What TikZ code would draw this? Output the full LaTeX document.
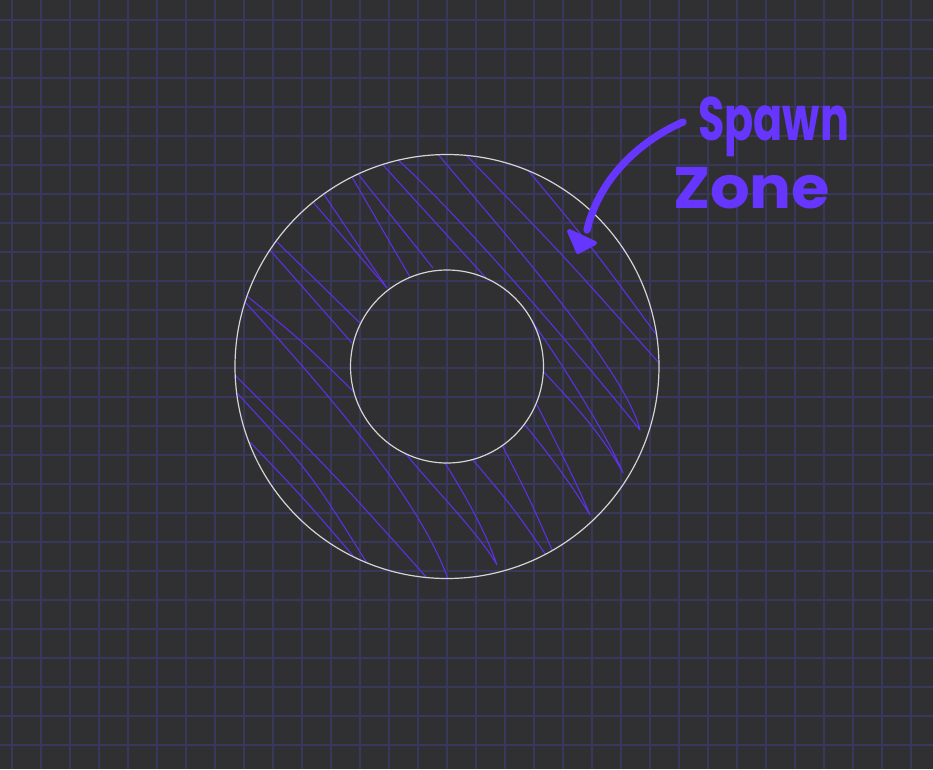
\documentclass[tikz,border=0pt]{standalone}
\usepackage{fontspec}
\usepackage{graphicx}
\newfontfamily\handfont{Poppins}
\definecolor{bgc}{RGB}{48,48,50}
\definecolor{gridc}{RGB}{56,56,92}
\definecolor{ringc}{RGB}{212,212,212}
\definecolor{hatchc}{RGB}{92,48,228}
\definecolor{inkc}{RGB}{102,54,255}
\tikzset{
  gridline/.style={draw=gridc, line width=1.2pt},
  ring/.style={draw=ringc, line width=0.9pt},
  hatchline/.style={draw=hatchc, line width=0.8pt, line cap=round, line join=round},
  inkstroke/.style={draw=inkc, line width=5.5pt, line cap=round},
  inkhead/.style={draw=inkc, fill=inkc, line width=3pt, line join=round},
  handlabel/.style={text=inkc, inner sep=0pt},
}
\begin{document}
\begin{tikzpicture}[x=0.75pt,y=-0.75pt]
\fill[bgc] (0,0) rectangle (933,769);
\useasboundingbox (0,0) rectangle (933,769);
\foreach \i in {0,...,31} \draw[gridline] ({12+29*\i},0) -- ({12+29*\i},769);
\foreach \j in {0,...,25} \draw[gridline] (0,{20+29*\j}) -- (933,{20+29*\j});

\coordinate (c) at (447,366.5);
\begin{scope}[even odd rule]
\clip (c) circle[radius=212.5] (c) circle[radius=96];
% upper-left strokes
\draw[hatchline] (247,296) .. controls (302,341) .. (354,392);
\draw[hatchline] (270,250) -- (352,343);
\draw[hatchline] (277,242) -- (360,323);
\draw[hatchline] (313,202) -- (387,288);
\draw[hatchline] (323,193) -- (387,288);
\draw[hatchline] (352,177) -- (410,277);
\draw[hatchline] (358,174) -- (433,268);
\draw[hatchline] (383,165) -- (487,279);
% lower-left strokes
\draw[hatchline] (245,302) .. controls (330,395) and (420,500) .. (448,579);
\draw[hatchline] (235,375) .. controls (334,474) .. (428,579);
\draw[hatchline] (237,393) .. controls (310,472) .. (367,563);
\draw[hatchline] (250,442) .. controls (304,498.5) .. (355,558);
% right strokes
\draw[hatchline] (437,153) .. controls (510,240) and (625,370) .. (640,430)
                 .. controls (600,380) and (470,225) .. (397,159);
\draw[hatchline] (465,154) .. controls (564,256) .. (659,363);
\draw[hatchline] (527,169) .. controls (595,251) .. (658,337);
\draw[hatchline] (531,320) .. controls (560,360) and (610,440) .. (623,473)
                 .. controls (600,430) and (565,395) .. (543,371);
\draw[hatchline] (537,405) .. controls (555,440) and (580,490) .. (590,515)
                 .. controls (575,490) and (550,455) .. (525,425);
\draw[hatchline] (502,445) .. controls (529,497.5) .. (553,552);
\draw[hatchline] (473,460) .. controls (512,506) .. (546,555);
\draw[hatchline] (405,453) .. controls (440,495) and (480,535) .. (497,565)
                 .. controls (485,530) and (465,495) .. (445,463);
\end{scope}

\draw[ring] (c) circle[radius=212];
\draw[ring] (c) circle[radius=96.5];

\node[handlabel, anchor=base west, font=\handfont\bfseries\fontsize{46pt}{50pt}\selectfont] (spawn) at (698,140) {\scalebox{0.7}[1]{Spawn}};
\node[handlabel, anchor=base west, font=\handfont\bfseries\fontsize{44pt}{48pt}\selectfont] (zone) at (673,208) {\scalebox{1.06}[1]{Zone}};

\coordinate (astart) at (683,122);
\coordinate (atip) at (587,230);
\draw[inkstroke] (astart) .. controls (644,139) and (600,175) .. (atip);
\filldraw[inkhead] (569,231) -- (595,243) -- (578,252) -- cycle;
\end{tikzpicture}
\end{document}
